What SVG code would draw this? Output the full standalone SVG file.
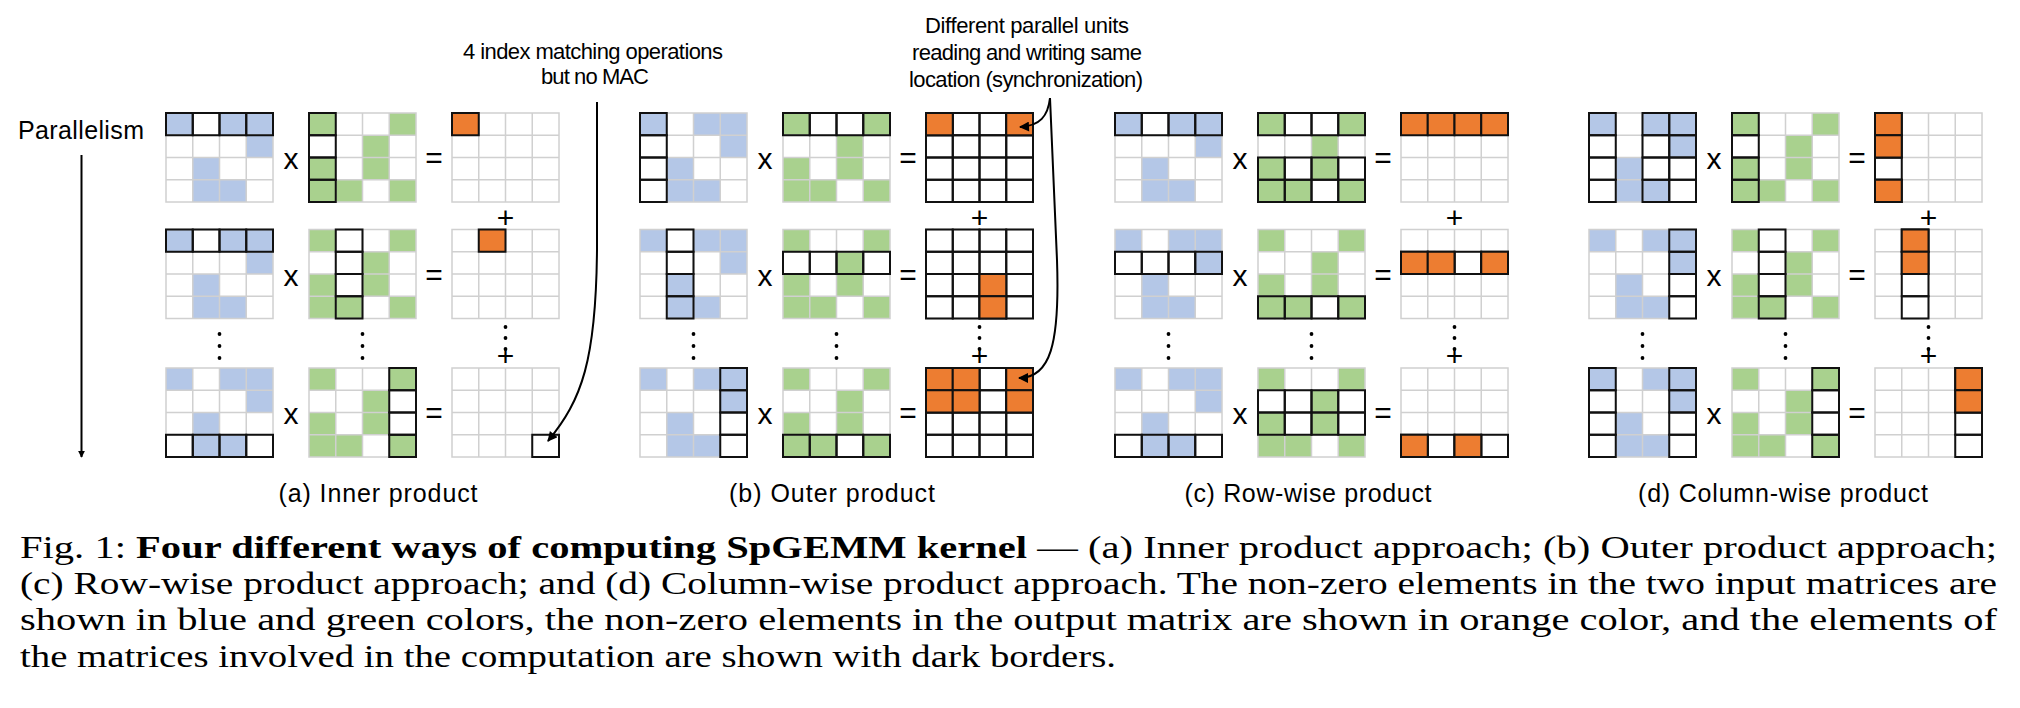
<svg xmlns="http://www.w3.org/2000/svg" xmlns:xlink="http://www.w3.org/1999/xlink" width="2020" height="708" viewBox="0 0 2020 708">
<style>
.gl{fill:none;stroke:#d0d0d0;stroke-width:1.5}
.dk{fill:none;stroke:#111;stroke-width:2}
.bl{fill:#b4c7e7}.gr{fill:#a9d18e}
.or{fill:#ed7d31;stroke:#111;stroke-width:2}
.t{font-family:"Liberation Sans",Arial,sans-serif;fill:#000}
.op{font-family:"Liberation Sans",Arial,sans-serif;font-size:30px;text-anchor:middle}
.cap{font-family:"Liberation Sans",Arial,sans-serif;font-size:25px;text-anchor:middle}
.ann{font-family:"Liberation Sans",Arial,sans-serif;font-size:22px;text-anchor:middle}
.fig{font-family:"Liberation Serif","Times New Roman",serif;font-size:31px}
.ln{fill:none;stroke:#000;stroke-width:2}
</style>
<defs>
<marker id="ah" viewBox="0 0 10 10" refX="9" refY="5" markerWidth="7" markerHeight="7" orient="auto" markerUnits="userSpaceOnUse"><path d="M0,0L10,5L0,10z" fill="#000"/></marker>
<marker id="ah2" viewBox="0 0 10 10" refX="9" refY="5" markerWidth="12" markerHeight="10" orient="auto" markerUnits="userSpaceOnUse"><path d="M0,0L10,5L0,10z" fill="#000"/></marker>
<g id="grid"><rect class="gl" width="107" height="89"/><path class="gl" d="M26.75 0V89M53.5 0V89M80.25 0V89M0 22.25H107M0 44.5H107M0 66.75H107"/></g>
<g id="mA"><rect width="107" height="89" fill="#fff"/>
<rect class="bl" x="0" y="0" width="26.75" height="22.25"/><rect class="bl" x="53.5" y="0" width="26.75" height="22.25"/><rect class="bl" x="80.25" y="0" width="26.75" height="22.25"/><rect class="bl" x="80.25" y="22.25" width="26.75" height="22.25"/><rect class="bl" x="26.75" y="44.5" width="26.75" height="22.25"/><rect class="bl" x="26.75" y="66.75" width="26.75" height="22.25"/><rect class="bl" x="53.5" y="66.75" width="26.75" height="22.25"/>
<use href="#grid"/></g>
<g id="mB"><rect width="107" height="89" fill="#fff"/>
<rect class="gr" x="0" y="0" width="26.75" height="22.25"/><rect class="gr" x="80.25" y="0" width="26.75" height="22.25"/><rect class="gr" x="53.5" y="22.25" width="26.75" height="22.25"/><rect class="gr" x="0" y="44.5" width="26.75" height="22.25"/><rect class="gr" x="53.5" y="44.5" width="26.75" height="22.25"/><rect class="gr" x="0" y="66.75" width="26.75" height="22.25"/><rect class="gr" x="26.75" y="66.75" width="26.75" height="22.25"/><rect class="gr" x="80.25" y="66.75" width="26.75" height="22.25"/>
<use href="#grid"/></g>
<g id="mC"><rect width="107" height="89" fill="#fff"/><use href="#grid"/></g>
<rect id="dc" class="dk" width="26.75" height="22.25"/>
<rect id="oc" class="or" width="26.75" height="22.25"/>
<g id="drow"><use href="#dc"/><use href="#dc" x="26.75"/><use href="#dc" x="53.5"/><use href="#dc" x="80.25"/></g>
<g id="dcol"><use href="#dc"/><use href="#dc" y="22.25"/><use href="#dc" y="44.5"/><use href="#dc" y="66.75"/></g>
<g id="dall"><use href="#drow"/><use href="#drow" y="22.25"/><use href="#drow" y="44.5"/><use href="#drow" y="66.75"/></g>
<g id="ops"><text class="op" x="125" y="56">x</text><text class="op" x="268" y="55">=</text></g>
<g id="mid"><text class="op" x="339.5" y="228">+</text>
<circle cx="53.5" cy="334" r="1.9"/><circle cx="53.5" cy="346" r="1.9"/><circle cx="53.5" cy="358" r="1.9"/>
<circle cx="196.5" cy="334" r="1.9"/><circle cx="196.5" cy="346" r="1.9"/><circle cx="196.5" cy="358" r="1.9"/>
<circle cx="339.5" cy="327" r="1.9"/><circle cx="339.5" cy="338" r="1.9"/><circle cx="339.5" cy="349" r="1.9"/>
<text class="op" x="339.5" y="366">+</text></g>
</defs>

<g id="parallelism"><text class="t" x="18" y="139" font-size="25" textLength="126">Parallelism</text></g>

<g id="panel-a" transform="translate(166,0)">
<use href="#mid"/>
<g transform="translate(0,113)"><use href="#ops"/><use href="#mA"/><use href="#drow"/>
<g transform="translate(143,0)"><use href="#mB"/><use href="#dcol"/></g>
<g transform="translate(286,0)"><use href="#mC"/><use href="#oc"/></g></g>
<g transform="translate(0,229.5)"><use href="#ops"/><use href="#mA"/><use href="#drow"/>
<g transform="translate(143,0)"><use href="#mB"/><use href="#dcol" x="26.75"/></g>
<g transform="translate(286,0)"><use href="#mC"/><use href="#oc" x="26.75"/></g></g>
<g transform="translate(0,368)"><use href="#ops"/><use href="#mA"/><use href="#drow" y="66.75"/>
<g transform="translate(143,0)"><use href="#mB"/><use href="#dcol" x="80.25"/></g>
<g transform="translate(286,0)"><use href="#mC"/><use href="#dc" x="80.25" y="66.75"/></g></g>
<text class="cap" x="212" y="502" textLength="199">(a) Inner product</text>
</g>

<g id="panel-b" transform="translate(640,0)">
<use href="#mid"/>
<g transform="translate(0,113)"><use href="#ops"/><use href="#mA"/><use href="#dcol"/>
<g transform="translate(143,0)"><use href="#mB"/><use href="#drow"/></g>
<g transform="translate(286,0)"><use href="#mC"/><use href="#dall"/><use href="#oc"/><use href="#oc" x="80.25"/></g></g>
<g transform="translate(0,229.5)"><use href="#ops"/><use href="#mA"/><use href="#dcol" x="26.75"/>
<g transform="translate(143,0)"><use href="#mB"/><use href="#drow" y="22.25"/></g>
<g transform="translate(286,0)"><use href="#mC"/><use href="#dall"/><use href="#oc" x="53.5" y="44.5"/><use href="#oc" x="53.5" y="66.75"/></g></g>
<g transform="translate(0,368)"><use href="#ops"/><use href="#mA"/><use href="#dcol" x="80.25"/>
<g transform="translate(143,0)"><use href="#mB"/><use href="#drow" y="66.75"/></g>
<g transform="translate(286,0)"><use href="#mC"/><use href="#dall"/><use href="#oc"/><use href="#oc" x="26.75"/><use href="#oc" x="80.25"/><use href="#oc" y="22.25"/><use href="#oc" x="26.75" y="22.25"/><use href="#oc" x="80.25" y="22.25"/></g></g>
<text class="cap" x="192" y="502" textLength="206">(b) Outer product</text>
</g>

<g id="panel-c" transform="translate(1115,0)">
<use href="#mid"/>
<g transform="translate(0,113)"><use href="#ops"/><use href="#mA"/><use href="#drow"/>
<g transform="translate(143,0)"><use href="#mB"/><use href="#drow"/><use href="#drow" y="44.5"/><use href="#drow" y="66.75"/></g>
<g transform="translate(286,0)"><use href="#mC"/><use href="#oc"/><use href="#oc" x="26.75"/><use href="#oc" x="53.5"/><use href="#oc" x="80.25"/></g></g>
<g transform="translate(0,229.5)"><use href="#ops"/><use href="#mA"/><use href="#drow" y="22.25"/>
<g transform="translate(143,0)"><use href="#mB"/><use href="#drow" y="66.75"/></g>
<g transform="translate(286,0)"><use href="#mC"/><use href="#drow" y="22.25"/><use href="#oc" y="22.25"/><use href="#oc" x="26.75" y="22.25"/><use href="#oc" x="80.25" y="22.25"/></g></g>
<g transform="translate(0,368)"><use href="#ops"/><use href="#mA"/><use href="#drow" y="66.75"/>
<g transform="translate(143,0)"><use href="#mB"/><use href="#drow" y="22.25"/><use href="#drow" y="44.5"/></g>
<g transform="translate(286,0)"><use href="#mC"/><use href="#drow" y="66.75"/><use href="#oc" y="66.75"/><use href="#oc" x="53.5" y="66.75"/></g></g>
<text class="cap" x="193" y="502" textLength="247">(c) Row-wise product</text>
</g>

<g id="panel-d" transform="translate(1589,0)">
<use href="#mid"/>
<g transform="translate(0,113)"><use href="#ops"/><use href="#mA"/><use href="#dcol"/><use href="#dcol" x="53.5"/><use href="#dcol" x="80.25"/>
<g transform="translate(143,0)"><use href="#mB"/><use href="#dcol"/></g>
<g transform="translate(286,0)"><use href="#mC"/><use href="#dcol"/><use href="#oc"/><use href="#oc" y="22.25"/><use href="#oc" y="66.75"/></g></g>
<g transform="translate(0,229.5)"><use href="#ops"/><use href="#mA"/><use href="#dcol" x="80.25"/>
<g transform="translate(143,0)"><use href="#mB"/><use href="#dcol" x="26.75"/></g>
<g transform="translate(286,0)"><use href="#mC"/><use href="#dcol" x="26.75"/><use href="#oc" x="26.75"/><use href="#oc" x="26.75" y="22.25"/></g></g>
<g transform="translate(0,368)"><use href="#ops"/><use href="#mA"/><use href="#dcol"/><use href="#dcol" x="80.25"/>
<g transform="translate(143,0)"><use href="#mB"/><use href="#dcol" x="80.25"/></g>
<g transform="translate(286,0)"><use href="#mC"/><use href="#dcol" x="80.25"/><use href="#oc" x="80.25"/><use href="#oc" x="80.25" y="22.25"/></g></g>
<text class="cap" x="194" y="502" textLength="290">(d) Column-wise product</text>
</g>

<g id="note-inner">
<text class="ann" x="593" y="59" textLength="260">4 index matching operations</text>
<text class="ann" x="595" y="84" textLength="108">but no MAC</text>
</g>
<g id="note-outer">
<text class="ann" x="1027" y="33" textLength="204">Different parallel units</text>
<text class="ann" x="1027" y="60" textLength="230">reading and writing same</text>
<text class="ann" x="1026" y="87" textLength="234">location (synchronization)</text>
</g>

<g id="connectors">
<line class="ln" x1="81.5" y1="155" x2="81.5" y2="457" marker-end="url(#ah)"/>
<path class="ln" d="M597,102 L597,250 C596,360 582,400 548,441" marker-end="url(#ah2)"/>
<path class="ln" d="M1050,98 C1048,116 1040,126 1020,127" marker-end="url(#ah2)"/>
<path class="ln" d="M1050,98 L1057,260 C1060,345 1050,378 1019,378" marker-end="url(#ah2)"/>
</g>

<g id="figure-caption">
<text class="fig" x="20" y="558" textLength="1977" lengthAdjust="spacingAndGlyphs">Fig. 1: <tspan font-weight="bold">Four different ways of computing SpGEMM kernel</tspan> — (a) Inner product approach; (b) Outer product approach;</text>
<text class="fig" x="20" y="594" textLength="1977" lengthAdjust="spacingAndGlyphs">(c) Row-wise product approach; and (d) Column-wise product approach. The non-zero elements in the two input matrices are</text>
<text class="fig" x="20" y="630" textLength="1977" lengthAdjust="spacingAndGlyphs">shown in blue and green colors, the non-zero elements in the output matrix are shown in orange color, and the elements of</text>
<text class="fig" x="20" y="667" textLength="1096" lengthAdjust="spacingAndGlyphs">the matrices involved in the computation are shown with dark borders.</text>
</g>
</svg>
